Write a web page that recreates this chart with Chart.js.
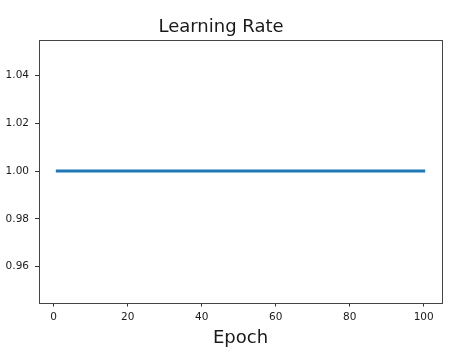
<!DOCTYPE html>
<html>
<head>
<meta charset="utf-8">
<script src="https://cdn.jsdelivr.net/npm/chart.js@4"></script>
<style>
  html, body { margin: 0; padding: 0; background: #fff; }
  #wrap { width: 469px; height: 358px; }
</style>
</head>
<body>
<div id="wrap"><canvas id="chart"></canvas></div>
<script>
// data
const epochs = [
  1, 2, 3, 4, 5, 6, 7, 8, 9, 10, 11, 12, 13, 14, 15, 16, 17, 18, 19, 20,
  21, 22, 23, 24, 25, 26, 27, 28, 29, 30, 31, 32, 33, 34, 35, 36, 37, 38, 39, 40,
  41, 42, 43, 44, 45, 46, 47, 48, 49, 50, 51, 52, 53, 54, 55, 56, 57, 58, 59, 60,
  61, 62, 63, 64, 65, 66, 67, 68, 69, 70, 71, 72, 73, 74, 75, 76, 77, 78, 79, 80,
  81, 82, 83, 84, 85, 86, 87, 88, 89, 90, 91, 92, 93, 94, 95, 96, 97, 98, 99, 100
];
const learningRate = [
  1, 1, 1, 1, 1, 1, 1, 1, 1, 1, 1, 1, 1, 1, 1, 1, 1, 1, 1, 1,
  1, 1, 1, 1, 1, 1, 1, 1, 1, 1, 1, 1, 1, 1, 1, 1, 1, 1, 1, 1,
  1, 1, 1, 1, 1, 1, 1, 1, 1, 1, 1, 1, 1, 1, 1, 1, 1, 1, 1, 1,
  1, 1, 1, 1, 1, 1, 1, 1, 1, 1, 1, 1, 1, 1, 1, 1, 1, 1, 1, 1,
  1, 1, 1, 1, 1, 1, 1, 1, 1, 1, 1, 1, 1, 1, 1, 1, 1, 1, 1, 1
];
const xTicks = [0, 20, 40, 60, 80, 100];
const yTicks = [0.96, 0.98, 1.00, 1.02, 1.04];

const FONT = "'DejaVu Sans', sans-serif";
const INK = '#1a1a1a';

// matplotlib-style box around the plot area
const frame = {
  id: 'frame',
  afterDraw(chart) {
    const { ctx, chartArea: a } = chart;
    ctx.save();
    ctx.strokeStyle = '#444';
    ctx.lineWidth = 1;
    ctx.strokeRect(Math.round(a.left) + 0.5, Math.round(a.top) + 0.5,
      Math.round(a.right - a.left), Math.round(a.bottom - a.top));
    ctx.restore();
  }
};

new Chart(document.getElementById('chart'), {
  type: 'line',
  data: {
    datasets: [{
      data: epochs.map((e, i) => ({ x: e, y: learningRate[i] })),
      borderColor: '#1f77b4',
      borderWidth: 3,
      borderCapStyle: 'square',
      pointRadius: 0,
      tension: 0,
      fill: false
    }]
  },
  options: {
    responsive: true,
    maintainAspectRatio: false,
    animation: false,
    layout: { padding: { left: 0, right: 27, top: 0, bottom: 0 } },
    plugins: {
      legend: { display: false },
      tooltip: { enabled: false },
      title: {
        display: true,
        text: 'Learning Rate',
        color: INK,
        font: { family: FONT, size: 18, weight: 'normal' },
        padding: { top: 17, bottom: 1 }
      }
    },
    scales: {
      x: {
        type: 'linear',
        min: -3.95,
        max: 104.95,
        afterBuildTicks: (s) => { s.ticks = xTicks.map(v => ({ value: v })); },
        afterFit: (s) => { s.height = 55.5; },
        grid: { drawOnChartArea: false, drawTicks: true, tickLength: 4, tickColor: '#333' },
        border: { display: false },
        ticks: {
          color: INK,
          padding: 4,
          maxRotation: 0,
          font: { family: FONT, size: 10.5 }
        },
        title: {
          display: true,
          text: 'Epoch',
          color: INK,
          font: { family: FONT, size: 18 },
          padding: { top: 2, bottom: 9 }
        }
      },
      y: {
        min: 0.945,
        max: 1.055,
        afterBuildTicks: (s) => { s.ticks = yTicks.map(v => ({ value: v })); },
        afterFit: (s) => { s.width = 39; },
        grid: { drawOnChartArea: false, drawTicks: true, tickLength: 4, tickColor: '#333' },
        border: { display: false },
        ticks: {
          color: INK,
          padding: 6,
          font: { family: FONT, size: 10.5 },
          callback: (v) => Number(v).toFixed(2)
        }
      }
    }
  },
  plugins: [frame]
});
</script>
</body>
</html>
